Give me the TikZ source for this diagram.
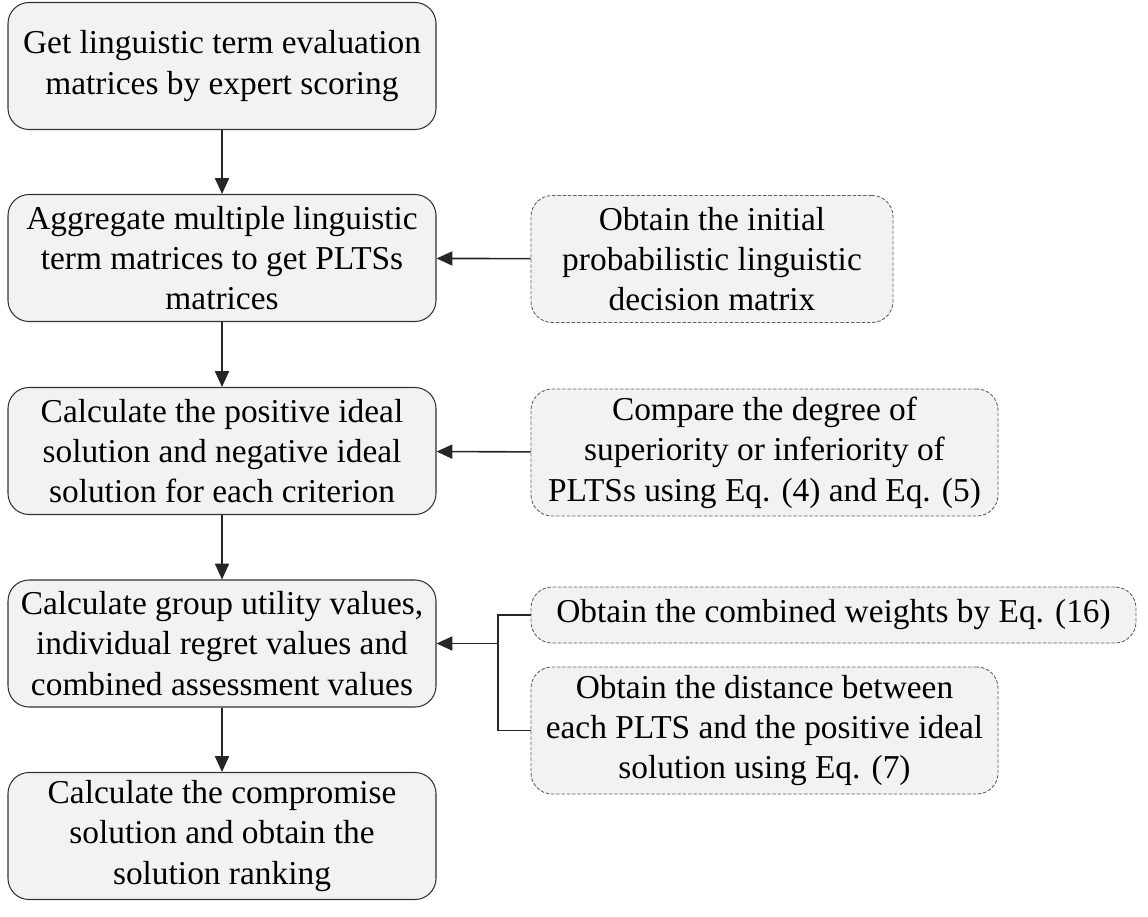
\documentclass[tikz,border=0pt]{standalone}
\usepackage{fontspec}
\setmainfont{Liberation Serif}
\usepackage{xcolor}
\usetikzlibrary{positioning,arrows.meta}
\definecolor{boxfill}{HTML}{F2F2F2}
\definecolor{dashline}{HTML}{5A6470}
\tikzset{
  stage/.style={draw=black!80, fill=boxfill, rounded corners=12pt, minimum width=8.56cm,
    minimum height=2.54cm, align=center, font=\fontsize{19}{23}\selectfont, line width=0.6pt},
  aux/.style={draw=dashline, dashed, dash pattern=on 2pt off 1pt, fill=boxfill, rounded corners=12pt,
    align=center, font=\fontsize{19}{23}\selectfont, line width=0.5pt},
  flow/.style={-{Triangle[length=9pt,width=8pt]}, line width=0.9pt, black!85}
}
\begin{document}
\begin{tikzpicture}
  \useasboundingbox (0,0) rectangle (22.96,-18.34);
  \node[stage] (A) at (4.44,-1.32) {Get linguistic term evaluation\\matrices by expert scoring};
  \node[stage] (B) at (4.44,-5.16) {Aggregate multiple linguistic\\term matrices to get PLTSs\\matrices};
  \node[stage] (C) at (4.44,-9.02) {Calculate the positive ideal\\solution and negative ideal\\solution for each criterion};
  \node[stage] (D) at (4.44,-12.87) {Calculate group utility values,\\individual regret values and\\combined assessment values};
  \node[stage] (E) at (4.44,-16.72) {Calculate the compromise\\solution and obtain the\\solution ranking};
  \node[aux, minimum width=7.24cm, minimum height=2.54cm] (P) at (14.24,-5.18) {Obtain the initial\\probabilistic linguistic\\decision matrix};
  \node[aux, minimum width=9.34cm, minimum height=2.54cm] (Q) at (15.29,-9.05) {Compare the degree of\\superiority or inferiority of\\PLTSs using Eq. (4) and Eq. (5)};
  \node[aux, minimum width=12.1cm, minimum height=1.12cm] (R) at (16.67,-12.30) {Obtain the combined weights by Eq. (16)};
  \node[aux, minimum width=9.34cm, minimum height=2.54cm] (S) at (15.29,-14.61) {Obtain the distance between\\each PLTS and the positive ideal\\solution using Eq. (7)};
  \coordinate (J) at (9.96,-12.87);
  \draw[flow] (A) -- (B);
  \draw[flow] (B) -- (C);
  \draw[flow] (C) -- (D);
  \draw[flow] (D) -- (E);
  \draw[flow] (P) -- (B);
  \draw[flow] (Q) -- (C);
  \draw[line width=0.9pt, black!85] (R.west) -| (J) |- (S.west);
  \draw[flow] (J) -- (D);
\end{tikzpicture}
\end{document}
